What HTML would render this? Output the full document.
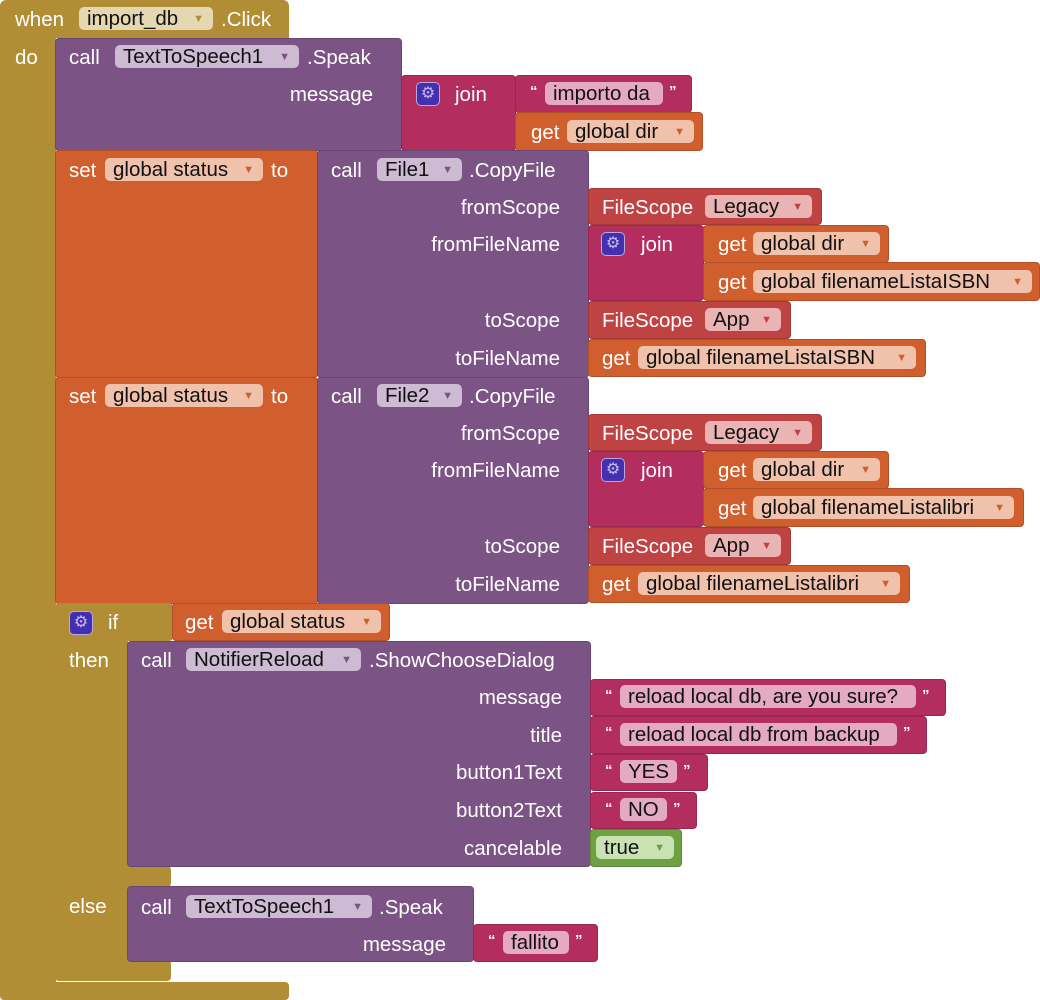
<!DOCTYPE html>
<html><head><meta charset="utf-8"><style>
body{margin:0;width:1040px;height:1000px;background:#fff;position:relative;overflow:hidden;font-family:"Liberation Sans",sans-serif}
.b{position:absolute;box-sizing:border-box;border-radius:4px;border:1px solid rgba(0,0,0,0.15)}
.g{background:#B18E35;border:none}.p{background:#7C5385}.o{background:#D05F2D}.k{background:#B32D5E}.r{background:#BF4343}.v{background:#6DA144}
.t{position:absolute;color:#fff;font-size:20.5px;line-height:24px;white-space:nowrap;margin-top:2px}
.rt{text-align:right}
.f{position:absolute;height:23px;border-radius:5px;color:#111;font-size:20.5px;line-height:24px;padding-left:8px;box-sizing:border-box;white-space:nowrap}
.f i{font-style:normal;font-size:11px;position:absolute;right:9px;top:0}
.fg{background:#E4D7B2}.fp{background:#CDBAD3}.fo{background:#F0C1AB}.fk{background:#E4AAC2}.fr{background:#EBB4B4}.fv{background:#C9E2B4}
.fo i{color:#D05F2D}.fp i{color:#7C5385}.fg i{color:#B18E35}.fr i{color:#BF4343}.fv i{color:#6DA144}
.gear{position:absolute;width:24px;height:24px;border-radius:5px;background:#4330B0;border:1px solid #b9a8e0;box-sizing:border-box;color:#c9b8f0;font-size:16px;line-height:22px;text-align:center}
.q{position:absolute;color:#fff;font-size:15px;font-weight:bold;line-height:20px}
</style></head><body>
<!-- event -->
<div class="b g" style="left:0;top:0;width:289px;height:38px;border-radius:6px 6px 0 0"></div>
<div class="b g" style="left:0;top:30px;width:56px;height:970px;border-radius:0 0 0 6px"></div>
<div class="b g" style="left:0;top:982px;width:289px;height:18px"></div>
<div class="t" style="left:15px;top:6px">when</div>
<div class="f fg" style="left:79px;top:7px;width:134px">import_db<i>▼</i></div>
<div class="t" style="left:221px;top:6px">.Click</div>
<div class="t" style="left:15px;top:44px">do</div>

<!-- TTS speak -->
<div class="b p" style="left:55px;top:38px;width:347px;height:113px"></div>
<div class="t" style="left:69px;top:44px">call</div>
<div class="f fp" style="left:115px;top:45px;width:184px">TextToSpeech1<i>▼</i></div>
<div class="t" style="left:307px;top:44px">.Speak</div>
<div class="t rt" style="right:667px;top:81px">message</div>
<div class="b k" style="left:401px;top:75px;width:115px;height:76px"></div>
<div class="gear" style="left:416px;top:82px">⚙</div>
<div class="t" style="left:455px;top:81px">join</div>
<div class="b k" style="left:515px;top:75px;width:177px;height:38px"></div>
<div class="q" style="left:530px;top:82px">“</div>
<div class="f fk" style="left:545px;top:82px;width:118px">importo da</div>
<div class="q" style="left:669px;top:82px">”</div>
<div class="b o" style="left:515px;top:112px;width:188px;height:39px"></div>
<div class="t" style="left:531px;top:119px">get</div>
<div class="f fo" style="left:567px;top:120px;width:127px">global dir<i>▼</i></div>

<!-- set 1 -->
<div class="b o" style="left:55px;top:150px;width:263px;height:228px"></div>
<div class="t" style="left:69px;top:157px">set</div>
<div class="f fo" style="left:105px;top:158px;width:158px">global status<i>▼</i></div>
<div class="t" style="left:271px;top:157px">to</div>
<div class="b p" style="left:317px;top:150px;width:272px;height:228px"></div>
<div class="t" style="left:331px;top:157px">call</div>
<div class="f fp" style="left:377px;top:158px;width:85px">File1<i>▼</i></div>
<div class="t" style="left:469px;top:157px">.CopyFile</div>
<div class="t rt" style="right:480px;top:194px">fromScope</div>
<div class="t rt" style="right:480px;top:231px">fromFileName</div>
<div class="t rt" style="right:480px;top:307px">toScope</div>
<div class="t rt" style="right:480px;top:345px">toFileName</div>
<div class="b r" style="left:588px;top:188px;width:234px;height:37px"></div>
<div class="t" style="left:602px;top:194px">FileScope</div>
<div class="f fr" style="left:705px;top:195px;width:107px">Legacy<i>▼</i></div>
<div class="b k" style="left:588px;top:225px;width:116px;height:76px"></div>
<div class="gear" style="left:601px;top:232px">⚙</div>
<div class="t" style="left:641px;top:231px">join</div>
<div class="b o" style="left:703px;top:225px;width:186px;height:38px"></div>
<div class="t" style="left:718px;top:231px">get</div>
<div class="f fo" style="left:753px;top:232px;width:127px">global dir<i>▼</i></div>
<div class="b o" style="left:703px;top:262px;width:337px;height:39px"></div>
<div class="t" style="left:718px;top:269px">get</div>
<div class="f fo" style="left:753px;top:270px;width:279px">global filenameListaISBN<i>▼</i></div>
<div class="b r" style="left:588px;top:301px;width:203px;height:38px"></div>
<div class="t" style="left:602px;top:307px">FileScope</div>
<div class="f fr" style="left:705px;top:308px;width:76px">App<i>▼</i></div>
<div class="b o" style="left:588px;top:339px;width:338px;height:38px"></div>
<div class="t" style="left:602px;top:345px">get</div>
<div class="f fo" style="left:638px;top:346px;width:278px">global filenameListaISBN<i>▼</i></div>

<!-- set 2 -->
<div class="b o" style="left:55px;top:377px;width:263px;height:227px"></div>
<div class="t" style="left:69px;top:383px">set</div>
<div class="f fo" style="left:105px;top:384px;width:158px">global status<i>▼</i></div>
<div class="t" style="left:271px;top:383px">to</div>
<div class="b p" style="left:317px;top:377px;width:272px;height:227px"></div>
<div class="t" style="left:331px;top:383px">call</div>
<div class="f fp" style="left:377px;top:384px;width:85px">File2<i>▼</i></div>
<div class="t" style="left:469px;top:383px">.CopyFile</div>
<div class="t rt" style="right:480px;top:420px">fromScope</div>
<div class="t rt" style="right:480px;top:457px">fromFileName</div>
<div class="t rt" style="right:480px;top:533px">toScope</div>
<div class="t rt" style="right:480px;top:571px">toFileName</div>
<div class="b r" style="left:588px;top:414px;width:234px;height:37px"></div>
<div class="t" style="left:602px;top:420px">FileScope</div>
<div class="f fr" style="left:705px;top:421px;width:107px">Legacy<i>▼</i></div>
<div class="b k" style="left:588px;top:451px;width:116px;height:76px"></div>
<div class="gear" style="left:601px;top:458px">⚙</div>
<div class="t" style="left:641px;top:457px">join</div>
<div class="b o" style="left:703px;top:451px;width:186px;height:38px"></div>
<div class="t" style="left:718px;top:457px">get</div>
<div class="f fo" style="left:753px;top:458px;width:127px">global dir<i>▼</i></div>
<div class="b o" style="left:703px;top:488px;width:321px;height:39px"></div>
<div class="t" style="left:718px;top:495px">get</div>
<div class="f fo" style="left:753px;top:496px;width:261px">global filenameListalibri<i>▼</i></div>
<div class="b r" style="left:588px;top:527px;width:203px;height:38px"></div>
<div class="t" style="left:602px;top:533px">FileScope</div>
<div class="f fr" style="left:705px;top:534px;width:76px">App<i>▼</i></div>
<div class="b o" style="left:588px;top:565px;width:322px;height:38px"></div>
<div class="t" style="left:602px;top:571px">get</div>
<div class="f fo" style="left:638px;top:572px;width:262px">global filenameListalibri<i>▼</i></div>

<!-- if -->
<div class="b g" style="left:55px;top:603px;width:118px;height:38px"></div>
<div class="b g" style="left:55px;top:620px;width:73px;height:361px;border-radius:0 0 0 5px"></div>
<div class="b g" style="left:55px;top:866px;width:116px;height:21px"></div>
<div class="b g" style="left:55px;top:960px;width:116px;height:21px"></div>
<div class="gear" style="left:69px;top:611px">⚙</div>
<div class="t" style="left:108px;top:609px">if</div>
<div class="b o" style="left:172px;top:603px;width:218px;height:38px"></div>
<div class="t" style="left:185px;top:609px">get</div>
<div class="f fo" style="left:222px;top:610px;width:159px">global status<i>▼</i></div>
<div class="t" style="left:69px;top:647px">then</div>
<div class="t" style="left:69px;top:893px">else</div>

<div class="b p" style="left:127px;top:641px;width:464px;height:226px"></div>
<div class="t" style="left:141px;top:647px">call</div>
<div class="f fp" style="left:186px;top:648px;width:175px">NotifierReload<i>▼</i></div>
<div class="t" style="left:369px;top:647px">.ShowChooseDialog</div>
<div class="t rt" style="right:478px;top:684px">message</div>
<div class="t rt" style="right:478px;top:722px">title</div>
<div class="t rt" style="right:478px;top:759px">button1Text</div>
<div class="t rt" style="right:478px;top:797px">button2Text</div>
<div class="t rt" style="right:478px;top:835px">cancelable</div>
<div class="b k" style="left:590px;top:679px;width:356px;height:37px"></div>
<div class="q" style="left:605px;top:686px">“</div>
<div class="f fk" style="left:620px;top:685px;width:296px">reload local db, are you sure?</div>
<div class="q" style="left:922px;top:686px">”</div>
<div class="b k" style="left:590px;top:716px;width:337px;height:38px"></div>
<div class="q" style="left:605px;top:723px">“</div>
<div class="f fk" style="left:620px;top:723px;width:277px">reload local db from backup</div>
<div class="q" style="left:903px;top:723px">”</div>
<div class="b k" style="left:590px;top:754px;width:118px;height:37px"></div>
<div class="q" style="left:605px;top:761px">“</div>
<div class="f fk" style="left:620px;top:760px;width:57px">YES</div>
<div class="q" style="left:683px;top:761px">”</div>
<div class="b k" style="left:590px;top:792px;width:107px;height:37px"></div>
<div class="q" style="left:605px;top:799px">“</div>
<div class="f fk" style="left:620px;top:798px;width:47px">NO</div>
<div class="q" style="left:673px;top:799px">”</div>
<div class="b v" style="left:590px;top:829px;width:92px;height:38px"></div>
<div class="f fv" style="left:596px;top:836px;width:78px">true<i>▼</i></div>

<div class="b p" style="left:127px;top:886px;width:347px;height:76px"></div>
<div class="t" style="left:141px;top:894px">call</div>
<div class="f fp" style="left:186px;top:895px;width:186px">TextToSpeech1<i>▼</i></div>
<div class="t" style="left:379px;top:894px">.Speak</div>
<div class="t rt" style="right:594px;top:931px">message</div>
<div class="b k" style="left:473px;top:924px;width:125px;height:38px"></div>
<div class="q" style="left:488px;top:931px">“</div>
<div class="f fk" style="left:503px;top:931px;width:66px">fallito</div>
<div class="q" style="left:575px;top:931px">”</div>
</body></html>
